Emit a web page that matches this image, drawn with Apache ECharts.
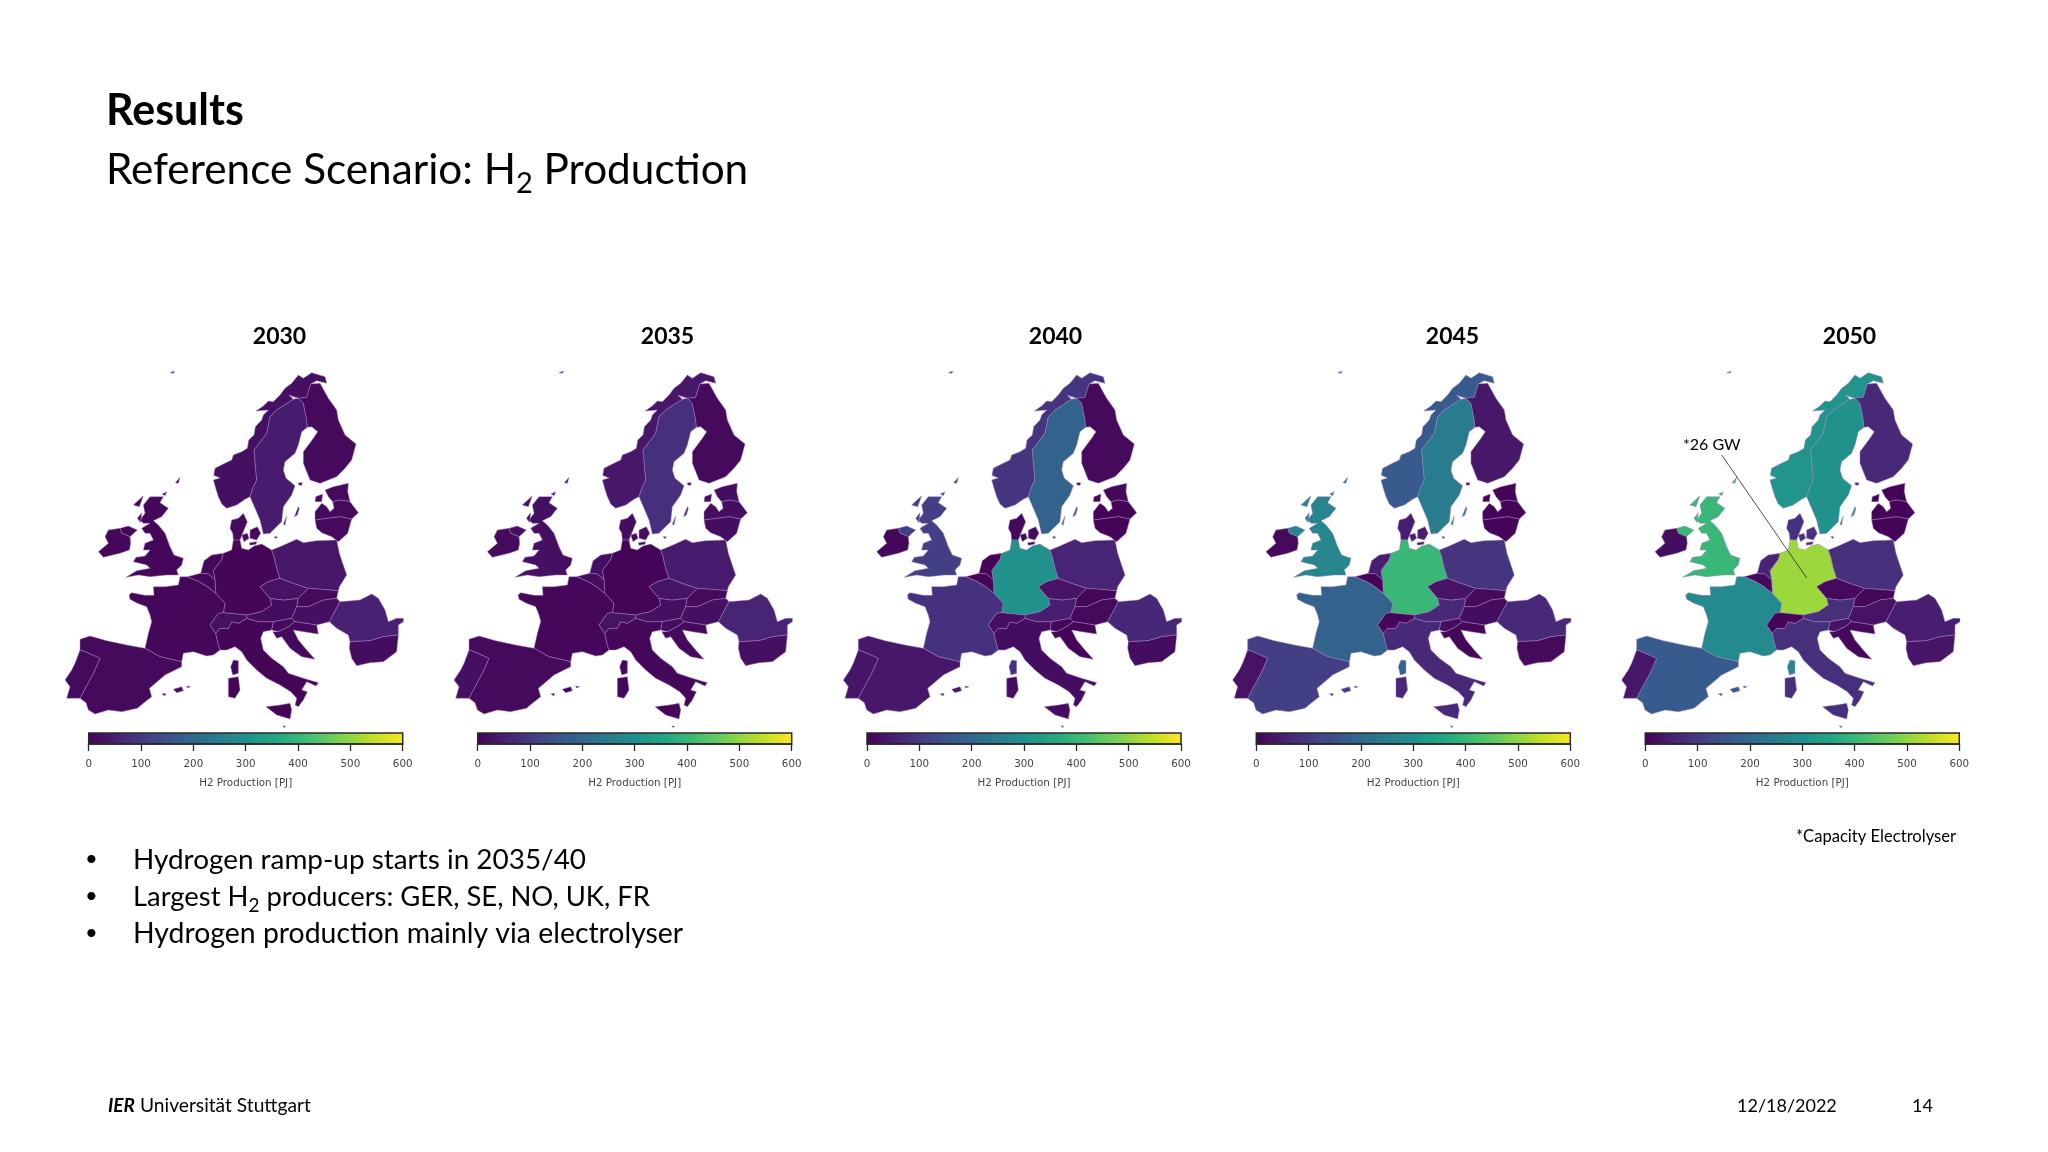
<!DOCTYPE html>
<html>
<head>
<meta charset="utf-8">
<title>Reference Scenario: H2 Production</title>
<script src="https://cdn.jsdelivr.net/npm/echarts@6/dist/echarts.min.js"></script>
<style>
  html, body { margin: 0; padding: 0; background: #fff; }
  #chart { width: 2048px; height: 1152px; }
</style>
</head>
<body>
<div id="chart"></div>
<script>
const years = ['2030', '2035', '2040', '2045', '2050'];
const countries = ['NO', 'SE', 'FI', 'DK', 'DE', 'NL', 'BE', 'FR', 'ES', 'PT', 'IT', 'CH', 'AT', 'CZ', 'PL', 'SK', 'HU', 'RO', 'BG', 'SI', 'HR', 'UK', 'IE', 'EE', 'LV', 'LT'];

const h2_2030 = [25, 45, 15, 15, 8, 15, 10, 10, 15, 15, 8, 25, 20, 30, 40, 15, 25, 55, 20, 15, 15, 10, 10, 15, 15, 15];
const h2_2035 = [40, 80, 15, 20, 5, 25, 20, 10, 15, 25, 10, 30, 25, 35, 45, 15, 25, 60, 25, 20, 15, 25, 15, 20, 20, 20];
const h2_2040 = [90, 190, 15, 15, 300, 5, 5, 85, 40, 35, 20, 25, 50, 30, 60, 10, 15, 65, 20, 10, 5, 110, 10, 10, 5, 5];
const h2_2045 = [170, 250, 40, 50, 400, 50, 5, 190, 110, 30, 70, 10, 70, 30, 90, 15, 20, 70, 15, 20, 10, 270, 15, 5, 5, 5];
const h2_2050 = [310, 300, 70, 85, 510, 60, 15, 285, 170, 40, 80, 5, 80, 15, 80, 10, 30, 50, 35, 30, 15, 400, 20, 5, 5, 5];
const h2ByYear = [h2_2030, h2_2035, h2_2040, h2_2045, h2_2050];

const colorTicks = [0, 100, 200, 300, 400, 500, 600];
const viridis = ['#440154', '#482475', '#414487', '#355f8d', '#2a788e', '#21918c', '#22a884', '#44bf70', '#7ad151', '#bddf26', '#fde725'];

// left end of each colour bar on the page, and title centre
const panelLeft = [88.7, 477.7, 867, 1256.3, 1645.3];
const titleX = [279, 667, 1055, 1452, 1849];

// base map outlines, traced by hand, coordinates are on a 1200 x 1440 sheet
const outlines = {
  NO: [[[530, 565], [515, 552], [505, 530], [497, 505], [490, 480], [510, 474], [491, 466], [495, 445], [520, 432], [545, 420], [550, 405], [575, 395], [592, 385], [596, 360], [612, 345], [616, 320], [635, 300], [640, 285], [655, 270], [618, 273], [640, 258], [655, 243], [670, 245], [690, 225], [705, 205], [725, 190], [745, 165], [760, 175], [785, 158], [825, 170], [830, 190], [800, 182], [782, 192], [770, 232], [745, 235], [717, 226], [730, 238], [680, 270], [660, 290], [650, 340], [612, 390], [620, 480], [610, 500], [600, 530], [585, 538], [560, 555]],
    [[360, 158], [374, 153], [370, 160]]],
  SE: [[[730, 238], [745, 235], [760, 250], [770, 300], [772, 322], [755, 335], [745, 375], [735, 400], [705, 425], [700, 450], [708, 475], [735, 497], [725, 525], [700, 560], [695, 605], [675, 625], [660, 640], [640, 642], [630, 600], [615, 565], [600, 530], [610, 500], [620, 480], [612, 390], [650, 340], [660, 290], [680, 270]],
    [[733, 590], [745, 560], [748, 565], [742, 585]], [[700, 612], [710, 588], [705, 616]]],
  FI: [[[717, 226], [745, 235], [770, 232], [782, 192], [810, 190], [835, 235], [860, 270], [865, 300], [885, 345], [918, 372], [905, 420], [885, 445], [860, 470], [810, 490], [780, 480], [760, 430], [760, 395], [790, 355], [803, 335], [785, 320], [772, 322], [770, 300], [760, 250], [745, 235]],
    [[745, 488], [757, 488], [755, 496], [746, 495]]],
  DK: [[[545, 600], [565, 595], [580, 580], [592, 605], [578, 640], [570, 660], [550, 660], [548, 640], [540, 625]],
    [[575, 645], [592, 640], [597, 655], [582, 665]], [[600, 630], [622, 620], [632, 640], [620, 660], [600, 655]],
    [[598, 668], [620, 665], [618, 673], [600, 676]], [[672, 650], [682, 650], [678, 656]]],
  DE: [[[550, 660], [570, 660], [575, 685], [595, 690], [612, 678], [635, 672], [665, 690], [672, 710], [680, 745], [690, 775], [655, 785], [630, 800], [660, 835], [665, 855], [635, 875], [590, 885], [520, 878], [525, 850], [497, 820], [495, 780], [490, 752], [515, 718], [520, 700], [545, 690]]],
  NL: [[[462, 722], [485, 705], [520, 700], [515, 718], [490, 752], [495, 780], [475, 762], [452, 760]]],
  BE: [[[412, 770], [452, 760], [475, 762], [495, 780], [497, 820], [472, 800], [447, 785]]],
  FR: [[[412, 770], [447, 785], [472, 800], [497, 820], [525, 850], [520, 878], [505, 880], [480, 915], [497, 940], [505, 975], [510, 990], [490, 1005], [470, 1008], [430, 995], [400, 1000], [395, 1025], [330, 1010], [285, 985], [295, 940], [305, 905], [300, 885], [290, 860], [262, 850], [240, 838], [237, 825], [245, 818], [285, 826], [312, 826], [310, 800], [345, 800], [385, 795], [390, 770]],
    [[550, 1020], [565, 1022], [565, 1060], [548, 1065], [542, 1040]]],
  ES: [[[90, 958], [120, 948], [170, 962], [230, 975], [285, 985], [330, 1010], [395, 1025], [395, 1040], [345, 1065], [310, 1095], [298, 1105], [305, 1130], [280, 1150], [262, 1165], [215, 1175], [175, 1170], [135, 1182], [115, 1170], [108, 1148], [90, 1135], [100, 1115], [130, 1060], [150, 1015], [105, 995], [90, 990]],
    [[370, 1108], [395, 1100], [400, 1112], [380, 1118]], [[410, 1098], [422, 1100], [412, 1104]], [[335, 1122], [347, 1120], [345, 1128]]],
  PT: [[[90, 990], [105, 995], [150, 1015], [130, 1060], [100, 1115], [90, 1135], [50, 1135], [60, 1100], [45, 1080], [65, 1050], [75, 1030]]],
  IT: [[[497, 940], [510, 925], [535, 925], [545, 905], [565, 910], [590, 895], [625, 905], [670, 905], [665, 930], [640, 935], [632, 955], [640, 990], [665, 1015], [700, 1040], [715, 1060], [760, 1075], [805, 1088], [798, 1098], [770, 1085], [755, 1110], [772, 1115], [760, 1140], [745, 1160], [735, 1155], [740, 1135], [722, 1115], [690, 1095], [650, 1075], [620, 1050], [590, 1020], [575, 995], [555, 980], [530, 990], [510, 990], [505, 975]],
    [[535, 1075], [565, 1070], [570, 1110], [555, 1135], [535, 1130]], [[648, 1160], [690, 1155], [720, 1150], [725, 1170], [720, 1197], [680, 1185]],
    [[698, 1217], [706, 1219], [703, 1223]]],
  CH: [[[480, 915], [505, 880], [520, 878], [590, 885], [590, 895], [565, 910], [545, 905], [535, 925], [510, 925], [497, 940]]],
  AT: [[[590, 885], [635, 875], [665, 855], [660, 835], [700, 840], [745, 835], [740, 860], [725, 895], [670, 905], [625, 905], [590, 895]]],
  CZ: [[[630, 800], [655, 785], [690, 775], [730, 790], [775, 805], [745, 835], [700, 840], [660, 835]]],
  PL: [[[665, 690], [690, 680], [740, 658], [760, 668], [800, 662], [860, 660], [868, 700], [878, 730], [890, 765], [868, 800], [865, 812], [815, 808], [775, 805], [730, 790], [690, 775], [680, 745], [672, 710]]],
  SK: [[[775, 805], [815, 808], [865, 812], [860, 835], [820, 840], [775, 860], [740, 860], [745, 835]]],
  HU: [[[740, 860], [775, 860], [820, 840], [860, 835], [870, 845], [838, 905], [800, 915], [735, 905], [725, 895]]],
  RO: [[[870, 845], [930, 840], [965, 822], [985, 835], [1005, 870], [1015, 905], [1040, 895], [1060, 895], [1060, 905], [1045, 915], [1045, 945], [1000, 950], [960, 962], [900, 965], [895, 945], [860, 925], [838, 905]]],
  BG: [[[900, 965], [960, 962], [1000, 950], [1045, 945], [1040, 995], [1000, 1025], [960, 1028], [920, 1037], [905, 1015], [898, 985]]],
  SI: [[[670, 905], [725, 895], [735, 905], [715, 920], [685, 935], [665, 930]]],
  HR: [[[715, 920], [735, 905], [800, 915], [805, 942], [760, 935], [730, 930], [745, 960], [770, 990], [795, 1018], [755, 1010], [720, 985], [695, 950], [680, 955], [668, 935], [685, 935]]],
  UK: [[[300, 530], [340, 530], [330, 548], [355, 565], [335, 590], [310, 602], [325, 615], [345, 640], [360, 680], [372, 705], [400, 715], [395, 735], [380, 750], [385, 765], [350, 765], [300, 770], [265, 765], [228, 772], [260, 752], [300, 745], [290, 735], [250, 725], [258, 712], [285, 708], [300, 690], [280, 690], [285, 670], [310, 660], [300, 640], [285, 640], [275, 625], [300, 610], [280, 610], [270, 600], [285, 580], [280, 555]],
    [[210, 625], [235, 618], [262, 630], [240, 650], [215, 640]], [[250, 555], [280, 527], [268, 560]], [[262, 595], [275, 578], [272, 608]],
    [[376, 488], [390, 472], [385, 490]], [[336, 522], [350, 515], [345, 527]]],
  IE: [[[175, 630], [210, 625], [215, 640], [240, 650], [242, 670], [238, 690], [210, 700], [160, 712], [145, 695], [175, 670], [165, 650]]],
  EE: [[[825, 510], [850, 500], [895, 490], [893, 515], [900, 545], [870, 540], [848, 545], [835, 530]], [[797, 530], [818, 522], [815, 545], [795, 545]]],
  LV: [[[795, 600], [795, 575], [815, 550], [830, 560], [840, 575], [852, 565], [848, 545], [870, 540], [900, 545], [925, 578], [905, 597], [870, 590]]],
  LT: [[[795, 600], [870, 590], [905, 597], [893, 640], [865, 665], [845, 650], [815, 638], [800, 625]]]
};

const europe = {
  type: 'FeatureCollection',
  features: countries.map(name => ({
    type: 'Feature',
    properties: { name: name },
    geometry: {
      type: 'MultiPolygon',
      coordinates: outlines[name].map(ring => [ring.concat([ring[0]])])
    }
  }))
};

// each series needs its own map name, echarts merges map series of one name
years.forEach(y => echarts.registerMap('europe' + y, europe));

const barGradient = new echarts.graphic.LinearGradient(0, 0, 1, 0,
  viridis.map((c, i) => ({ offset: i / (viridis.length - 1), color: c })));

const series = years.map((y, i) => ({
  type: 'map',
  map: 'europe' + y,
  projection: { project: p => p, unproject: p => p },
  boundingCoords: [[0, 0], [1200, 1440]],
  layoutCenter: [panelLeft[i] - 38.67 + 200, 560],
  layoutSize: 480,
  silent: true,
  roam: false,
  label: { show: false },
  emphasis: { disabled: true },
  select: { disabled: true },
  itemStyle: { borderColor: 'rgba(165,125,195,0.65)', borderWidth: 0.7 },
  data: countries.map((c, k) => ({ name: c, value: h2ByYear[i][k] }))
}));

const grids = years.map((y, i) => ({
  show: true,
  left: panelLeft[i],
  top: 733,
  width: 314,
  height: 11,
  backgroundColor: barGradient,
  borderColor: '#2a2a2a',
  borderWidth: 1.5
}));

const xAxes = years.map((y, i) => ({
  type: 'value',
  gridIndex: i,
  min: colorTicks[0],
  max: colorTicks[colorTicks.length - 1],
  interval: 100,
  position: 'bottom',
  name: 'H2 Production [PJ]',
  nameLocation: 'middle',
  nameGap: 34,
  nameTextStyle: { fontFamily: 'DejaVu Sans', fontSize: 10.3, color: '#444' },
  axisLine: { show: true, lineStyle: { color: '#2a2a2a', width: 1.5 } },
  axisTick: { show: true, length: 7, lineStyle: { color: '#2a2a2a', width: 1.3 } },
  axisLabel: { fontFamily: 'DejaVu Sans', fontSize: 10.3, color: '#444', margin: 15, showMinLabel: true, showMaxLabel: true, hideOverlap: false },
  splitLine: { show: false }
}));

const yAxes = years.map((y, i) => ({ type: 'value', gridIndex: i, show: false, min: 0, max: 1 }));

const bodyFont = 'Lato';
const textEl = (x, y, text, size, extra) => ({
  type: 'text',
  x: x,
  y: y,
  silent: true,
  style: Object.assign({
    text: text,
    fontFamily: bodyFont,
    fontSize: size,
    fill: '#000',
    verticalAlign: 'middle'
  }, extra || {})
});

const subRich = size => ({ sub: { fontFamily: bodyFont, fontSize: size, fill: '#000', padding: [size * 0.95, 0, 0, 0] } });

const slideText = [
  textEl(106, 111, 'Results', 43, { fontWeight: 'bold' }),
  textEl(106, 170, 'Reference Scenario: H{sub|2} Production', 42.3, { rich: subRich(29) }),
  textEl(85, 859, '•', 22),
  textEl(85, 896, '•', 22),
  textEl(85, 933, '•', 22),
  textEl(133, 860, 'Hydrogen ramp-up starts in 2035/40', 27.9),
  textEl(133, 897, 'Largest H{sub|2} producers: GER, SE, NO, UK, FR', 27.4, { rich: subRich(19) }),
  textEl(133, 934, 'Hydrogen production mainly via electrolyser', 28.4),
  textEl(1796, 837, '*Capacity Electrolyser', 16.6),
  textEl(1683, 445, '*26 GW', 16),
  textEl(108, 1106, 'IER', 19, { fontWeight: 'bold', fontStyle: 'italic' }),
  textEl(140, 1106, 'Universität Stuttgart', 19.2),
  textEl(1737, 1106, '12/18/2022', 18),
  textEl(1912, 1106, '14', 18),
  {
    type: 'line',
    silent: true,
    z: 10,
    shape: { x1: 1721.7, y1: 455, x2: 1806.7, y2: 578 },
    style: { stroke: '#222', lineWidth: 0.8 }
  }
];

const chart = echarts.init(document.getElementById('chart'), null, { renderer: 'canvas' });
chart.setOption({
  animation: false,
  backgroundColor: '#fff',
  title: years.map((y, i) => ({
    text: y,
    left: titleX[i] - 4.5,
    top: 332,
    textAlign: 'center',
    textVerticalAlign: 'middle',
    textStyle: { fontFamily: bodyFont, fontSize: 23, fontWeight: 'bold', color: '#000' }
  })),
  visualMap: {
    show: false,
    type: 'continuous',
    min: 0,
    max: 600,
    seriesIndex: [0, 1, 2, 3, 4],
    inRange: { color: viridis }
  },
  grid: grids,
  xAxis: xAxes,
  yAxis: yAxes,
  series: series,
  graphic: { elements: slideText }
});
</script>
</body>
</html>
